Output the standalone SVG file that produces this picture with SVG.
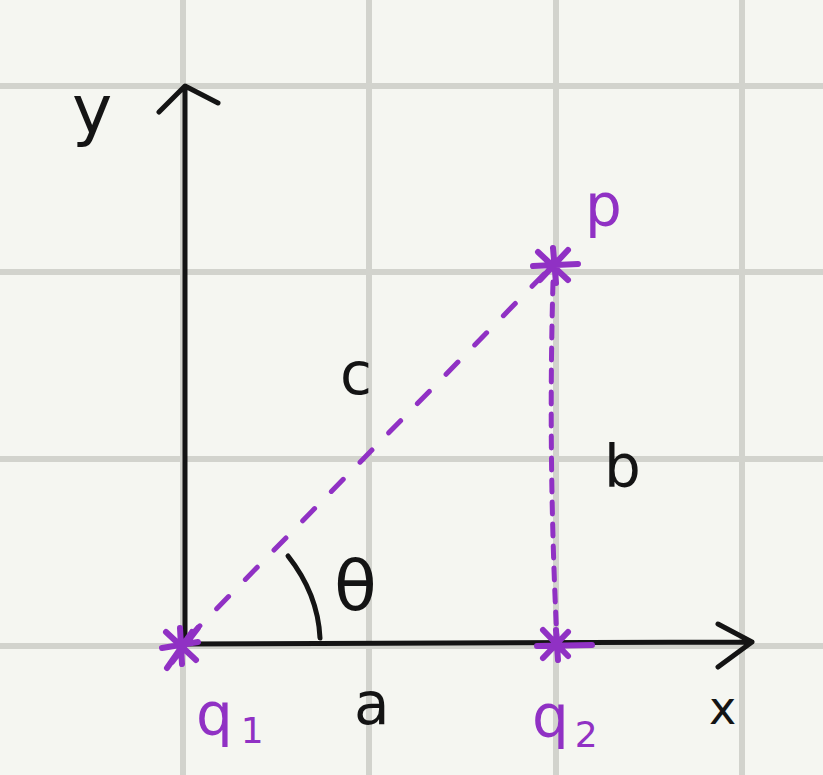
<svg xmlns="http://www.w3.org/2000/svg" width="823" height="775" viewBox="0 0 823 775">
<style>
.grid{stroke:#d2d3cd;stroke-width:6;fill:none}
.axis{stroke:#141414;stroke-width:5;fill:none;stroke-linecap:round;stroke-linejoin:round}
.pur{stroke:#9031c4;fill:none;stroke-linecap:round;stroke-linejoin:round}
.lbl{font-family:"DejaVu Sans",sans-serif;fill:#141414}
.plbl{font-family:"DejaVu Sans",sans-serif;fill:#9031c4}
</style>
<rect width="823" height="775" fill="#f5f6f1"/>
<g id="grid">
<path class="grid" d="M183 0V775M369 0V775M556 0V775M742 0V775M0 86H823M0 272H823M0 459H823M0 646H823"/>
</g>
<g id="connectors">
<path class="axis" d="M185 645V88M159 112L185 86L218 103"/>
<path class="axis" d="M183 644L752 642M718 624L752 642L718 667"/>
<path class="axis" d="M288 556Q318 594 320 638"/>
<path class="pur" stroke-width="5" stroke-dasharray="17 24" d="M188 638L550 268"/>
<path class="pur" stroke-width="5" stroke-dasharray="12 10" d="M553 282Q548 460 557 640"/>
</g>
<g id="q1">
<path class="pur" stroke-width="6" d="M166 632L196 660M172 662L198 628M162 648L198 642M180 628L182 664M167 668L192 632"/>
<text class="plbl" x="196" y="735" font-size="58">q<tspan font-size="36" dx="8" dy="8">1</tspan></text>
</g>
<g id="q2">
<path class="pur" stroke-width="6" d="M543 630L568 656M543 658L568 632M537 646L592 645M556 630L558 660"/>
<text class="plbl" x="532" y="737" font-size="58">q<tspan font-size="36" dx="6" dy="10">2</tspan></text>
</g>
<g id="P">
<path class="pur" stroke-width="6" d="M538 252L568 280M540 280L568 250M533 266L578 264M553 248L556 283"/>
<text class="plbl" x="585" y="226" font-size="58">p</text>
</g>
<g id="labels">
<text class="lbl" x="72" y="133" font-size="68">y</text>
<text class="lbl" x="340" y="394" font-size="58">c</text>
<text class="lbl" x="604" y="487" font-size="58">b</text>
<text class="lbl" x="334" y="610" font-size="70">θ</text>
<text class="lbl" x="354" y="724" font-size="58">a</text>
<text class="lbl" x="709" y="724" font-size="46">x</text>
</g>
</svg>
